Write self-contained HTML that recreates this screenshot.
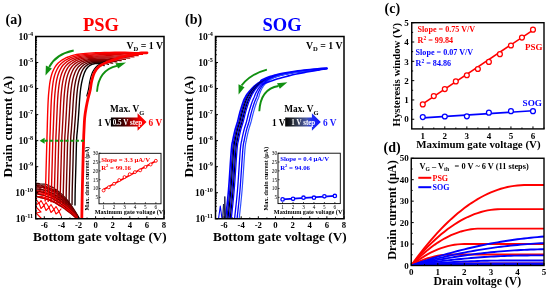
<!DOCTYPE html>
<html><head><meta charset="utf-8"><style>html,body{margin:0;padding:0;background:#fff;overflow:hidden}svg{display:block;filter:blur(0.35px)}</style></head>
<body>
<svg width="550" height="289" viewBox="0 0 550 289" font-family="'Liberation Serif', serif" font-weight="bold">
<rect width="550" height="289" fill="#fff"/>
<defs><linearGradient id="ga" x1="0" x2="1" y1="0" y2="0"><stop offset="0" stop-color="#000"/><stop offset="0.35" stop-color="#400000"/><stop offset="0.72" stop-color="#d00000"/><stop offset="0.8" stop-color="#ff0000"/><stop offset="1" stop-color="#ff0000"/></linearGradient><linearGradient id="gb" x1="0" x2="1" y1="0" y2="0"><stop offset="0" stop-color="#000"/><stop offset="0.3" stop-color="#303848"/><stop offset="0.6" stop-color="#4858a8"/><stop offset="0.75" stop-color="#2030f0"/><stop offset="1" stop-color="#1010ff"/></linearGradient></defs>
<text x="5.5" y="24.3" font-size="14" fill="#000" text-anchor="start" >(a)</text>
<text x="185" y="24.3" font-size="14" fill="#000" text-anchor="start" >(b)</text>
<text x="384.5" y="12.5" font-size="14" fill="#000" text-anchor="start" >(c)</text>
<text x="383.5" y="152" font-size="14" fill="#000" text-anchor="start" >(d)</text>
<text x="101" y="31" font-size="18.5" fill="#ff0000" text-anchor="middle" >PSG</text>
<text x="282" y="31" font-size="18.5" fill="#0000ff" text-anchor="middle" >SOG</text>
<defs><clipPath id="ca"><rect x="35.75" y="36.5" width="128.25" height="182.25"/></clipPath><clipPath id="cb"><rect x="215.5" y="36.5" width="128.5" height="182.25"/></clipPath></defs>
<g clip-path="url(#ca)" fill="none" stroke-linejoin="round" stroke-linecap="round">
<polyline points="35.7,183.53 37.89,183.4 40.08,183.76 42.27,184.04 44.46,184.01 46.65,184.58 48.84,185.94 51.03,186.49 53.22,187.62 55.41,189.39 57.6,190.64 59.79,192.57 61.98,194.38 64.17,196.65 66.36,198.93 68.55,201.74 70.74,204.7 72.93,207.79 75.12,211.22 77.31,214.88 79.5,218.8" stroke="#3c0000" stroke-width="1.2"/>
<polyline points="35.7,185.1 37.88,184.86 40.06,184.77 42.25,185.78 44.43,185.88 46.61,186.65 48.79,187.5 50.97,188.3 53.15,189.52 55.34,190.51 57.52,192.21 59.7,193.73 61.88,195.84 64.06,197.91 66.24,199.98 68.42,202.56 70.61,205.36 72.79,208.48 74.97,211.63 77.15,215.11 79.33,218.8" stroke="#690000" stroke-width="1.2"/>
<polyline points="35.7,185.49 37.87,185.51 40.05,185.89 42.22,186.17 44.39,186.86 46.57,187.27 48.74,188.2 50.91,189.07 53.09,190.24 55.26,191.34 57.43,192.56 59.61,194.57 61.78,196.47 63.95,198.51 66.13,200.67 68.3,203.19 70.47,205.78 72.65,208.8 74.82,211.88 76.99,215.22 79.17,218.8" stroke="#780000" stroke-width="1.2"/>
<polyline points="35.7,187.41 37.87,186.58 40.03,187.41 42.2,187.36 44.36,187.6 46.53,188.32 48.69,189.42 50.86,190.4 53.02,190.98 55.19,192.58 57.35,193.73 59.52,195.68 61.68,197.32 63.84,199.52 66.01,201.72 68.17,203.95 70.34,206.62 72.5,209.26 74.67,212.22 76.84,215.43 79,218.8" stroke="#500000" stroke-width="1.2"/>
<polyline points="35.7,186.94 37.86,187.19 40.01,186.96 42.17,187.2 44.33,188.35 46.48,188.53 48.64,189.77 50.8,190.65 52.95,191.43 55.11,192.77 57.27,194.25 59.42,195.94 61.58,197.72 63.74,199.69 65.89,201.88 68.05,204.31 70.21,206.74 72.36,209.46 74.52,212.41 76.68,215.48 78.83,218.8" stroke="#960000" stroke-width="1.2"/>
<polyline points="35.7,188.89 37.85,188.97 40,188.67 42.15,189.36 44.29,189.96 46.44,190.14 48.59,191.34 50.74,192.26 52.89,192.98 55.04,194.54 57.18,195.84 59.33,197.48 61.48,199.05 63.63,201.06 65.78,203.1 67.93,205.11 70.07,207.52 72.22,210.17 74.37,212.91 76.52,215.73 78.67,218.8" stroke="#a60000" stroke-width="1.2"/>
<polyline points="35.7,189.13 37.84,189.24 39.98,189.4 42.12,189.79 44.26,190.46 46.4,190.86 48.54,191.69 50.68,192.88 52.82,193.49 54.96,195.04 57.1,196.5 59.24,197.83 61.38,199.5 63.52,201.56 65.66,203.38 67.8,205.54 69.94,207.92 72.08,210.44 74.22,213.01 76.36,215.83 78.5,218.8" stroke="#640000" stroke-width="1.2"/>
<polyline points="35.7,190.44 37.83,190.9 39.96,190.47 42.09,190.97 44.23,191.72 46.36,192.51 48.49,192.95 50.62,193.72 52.75,194.72 54.89,196.16 57.02,197.32 59.15,199.1 61.28,200.72 63.41,202.24 65.54,204.2 67.67,206.4 69.81,208.56 71.94,210.93 74.07,213.36 76.2,216 78.33,218.8" stroke="#c40000" stroke-width="1.2"/>
<polyline points="35.7,191.12 37.82,191.28 39.95,191.57 42.07,191.93 44.19,192.41 46.32,193.43 48.44,193.64 50.56,194.46 52.69,196.09 54.81,197.21 56.93,198.55 59.06,199.73 61.18,201.52 63.3,203.2 65.43,204.81 67.55,206.94 69.67,209.06 71.8,211.27 73.92,213.63 76.04,216.14 78.17,218.8" stroke="#d40000" stroke-width="1.2"/>
<polyline points="35.7,191.14 37.82,191.74 39.93,191.69 42.05,192.52 44.16,192.41 46.28,193.72 48.39,194.34 50.51,195.4 52.62,196.41 54.73,197.58 56.85,198.71 58.97,199.89 61.08,201.78 63.2,203.26 65.31,205.14 67.42,207.2 69.54,209.24 71.66,211.42 73.77,213.81 75.88,216.23 78,218.8" stroke="#780000" stroke-width="1.2"/>
<polyline points="35.7,192.86 37.81,192.57 39.91,193.09 42.02,193.09 44.13,193.5 46.23,194.42 48.34,195.39 50.45,195.87 52.55,197.29 54.66,198.5 56.77,199.7 58.87,201.09 60.98,202.27 63.09,204.15 65.19,205.97 67.3,207.61 69.41,209.67 71.51,211.78 73.62,214.03 75.73,216.35 77.83,218.8" stroke="#f20000" stroke-width="1.2"/>
<polyline points="35.7,193.53 37.8,193.7 39.9,194.04 42,194.44 44.09,194.93 46.19,196.27 48.29,196.92 50.39,197.28 52.49,198.54 54.59,199.54 56.68,200.76 58.78,202.11 60.88,203.67 62.98,205.18 65.08,206.75 67.18,208.46 69.27,210.35 71.37,212.28 73.47,214.4 75.57,216.56 77.67,218.8" stroke="#ff0000" stroke-width="1.2"/>
<polyline points="35.7,193.77 37.79,194.08 39.88,194.56 41.97,195.12 44.06,195.32 46.15,196.3 48.24,196.94 50.33,197.71 52.42,198.68 54.51,199.87 56.6,201.19 58.69,202.38 60.78,203.92 62.87,205.36 64.96,206.93 67.05,208.74 69.14,210.59 71.23,212.41 73.32,214.48 75.41,216.59 77.5,218.8" stroke="#8c0000" stroke-width="1.2"/>
<polyline points="35.7,195.9 37.78,196.51 39.86,196.66 41.95,196.6 44.03,197.29 46.11,197.67 48.19,198.91 50.27,199.64 52.35,200.71 54.44,201.68 56.52,202.74 58.6,203.99 60.68,205.22 62.76,206.46 64.84,208.12 66.92,209.55 69.01,211.26 71.09,213.12 73.17,214.86 75.25,216.79 77.33,218.8" stroke="#ff0000" stroke-width="1.2"/>
<polyline points="35.7,196.54 37.77,196.52 39.85,197.56 41.92,197.34 43.99,198.47 46.07,198.95 48.14,199.79 50.21,200.68 52.29,201.36 54.36,202.49 56.43,203.19 58.51,204.73 60.58,205.88 62.65,207.3 64.73,208.54 66.8,210.22 68.87,211.83 70.95,213.33 73.02,215.11 75.09,216.93 77.17,218.8" stroke="#ff0000" stroke-width="1.2"/>
<polyline points="35.7,196.67 37.77,196.89 39.83,197.53 41.9,198.07 43.96,198.32 46.03,198.96 48.09,199.73 50.16,200.55 52.22,201.54 54.29,202.37 56.35,203.7 58.42,205.1 60.48,206.11 62.55,207.56 64.61,208.78 66.67,210.41 68.74,211.97 70.81,213.56 72.87,215.23 74.94,216.98 77,218.8" stroke="#a00000" stroke-width="1.2"/>
<polyline points="36,199 39,203.5 41,200.5 44,205.5 46,202.5 49,207.5 51,204.5 54,209.5 56,206.5 59,211.5 61,209" stroke="#ff0000" stroke-width="1.1"/>
<polyline points="36,205 39,203 41,208.5 44,205.5 46,210.5 49,207.5 51,212.5 54,209.5 56,214 59,211.5 61,215.5" stroke="#ff0000" stroke-width="1.1"/>
<polyline points="36,207 41,212 36,213 41,218" stroke="#ff0000" stroke-width="1.1"/>
<polyline points="104.1,65.6 103.83,65.43 103.45,65.19 103.01,64.91 102.51,64.63 102,64.4 101.47,64.2 100.91,64.01 100.32,63.84 99.68,63.7 99,63.6 98.26,63.53 97.47,63.48 96.65,63.48 95.82,63.51 95,63.6 94.18,63.75 93.35,63.95 92.53,64.19 91.74,64.48 91,64.8 90.33,65.16 89.7,65.55 89.12,65.98 88.55,66.46 88,67 87.46,67.59 86.94,68.23 86.44,68.93 85.96,69.68 85.5,70.5 85.06,71.38 84.65,72.32 84.25,73.32 83.87,74.38 83.5,75.5 83.13,76.68 82.78,77.92 82.44,79.22 82.11,80.58 81.8,82 81.51,83.47 81.23,85 80.97,86.58 80.73,88.25 80.5,90 80.3,91.79 80.12,93.62 79.95,95.54 79.78,97.65 79.6,100 79.41,102.68 79.22,105.64 79.02,108.76 78.81,111.92 78.6,115 78.37,118.08 78.12,121.24 77.86,124.36 77.62,127.32 77.4,130 77.21,132.08 77.05,133.64 76.89,135.16 76.75,137.12 76.6,140 76.45,144.04 76.31,148.92 76.18,154.28 76.04,159.76 75.9,165 75.75,170.16 75.6,175.48 75.44,180.72 75.31,185.64 75.2,190 75.12,193.88 75.07,197.44 75.04,200.56 75.02,203.12 75,205" stroke="#000000" stroke-width="1.4"/>
<polyline points="108.36,64.35 107.83,64.18 107.08,63.95 106.2,63.68 105.25,63.41 104.3,63.19 103.33,63.01 102.31,62.84 101.24,62.7 100.16,62.58 99.1,62.5 98.04,62.45 96.96,62.43 95.89,62.44 94.84,62.49 93.82,62.6 92.84,62.76 91.87,62.97 90.93,63.22 90.04,63.52 89.19,63.86 88.4,64.23 87.66,64.65 86.95,65.1 86.28,65.61 85.62,66.18 84.98,66.8 84.36,67.48 83.77,68.21 83.21,69 82.68,69.85 82.18,70.77 81.72,71.75 81.28,72.79 80.86,73.89 80.45,75.05 80.06,76.27 79.68,77.55 79.32,78.89 78.98,80.3 78.66,81.76 78.36,83.28 78.08,84.86 77.82,86.5 77.58,88.21 77.35,90 77.15,91.81 76.97,93.63 76.8,95.56 76.64,97.65 76.46,100 76.28,102.68 76.09,105.64 75.9,108.76 75.7,111.92 75.5,115 75.28,118.08 75.05,121.24 74.81,124.36 74.58,127.32 74.38,130 74.21,132.08 74.05,133.64 73.91,135.16 73.77,137.12 73.63,140 73.49,144.04 73.35,148.92 73.21,154.28 73.07,159.76 72.93,165 72.78,170.17 72.63,175.5 72.47,180.75 72.34,185.67 72.23,190 72.15,193.82 72.1,197.29 72.07,200.31 72.04,202.78 72.02,204.6" stroke="#390000" stroke-width="1.4"/>
<polyline points="112.62,63.1 111.82,62.94 110.71,62.71 109.4,62.44 107.99,62.19 106.6,61.98 105.19,61.82 103.7,61.67 102.17,61.55 100.65,61.46 99.2,61.4 97.81,61.37 96.45,61.37 95.13,61.4 93.86,61.48 92.64,61.6 91.49,61.77 90.39,61.99 89.34,62.26 88.34,62.57 87.38,62.92 86.47,63.31 85.61,63.75 84.79,64.23 84,64.76 83.24,65.36 82.5,66.01 81.79,66.72 81.11,67.48 80.46,68.31 79.86,69.2 79.3,70.16 78.78,71.17 78.3,72.26 77.84,73.4 77.4,74.6 76.98,75.86 76.58,77.18 76.2,78.57 75.85,80.01 75.52,81.52 75.21,83.09 74.93,84.73 74.67,86.42 74.43,88.18 74.2,90 74,91.82 73.82,93.65 73.65,95.57 73.49,97.66 73.32,100 73.14,102.68 72.96,105.64 72.78,108.76 72.59,111.92 72.4,115 72.19,118.08 71.98,121.24 71.76,124.36 71.55,127.32 71.36,130 71.2,132.08 71.06,133.64 70.92,135.16 70.79,137.12 70.66,140 70.52,144.04 70.38,148.92 70.24,154.28 70.1,159.76 69.96,165 69.81,170.17 69.66,175.52 69.51,180.78 69.37,185.69 69.26,190 69.18,193.76 69.13,197.14 69.09,200.06 69.06,202.44 69.04,204.2" stroke="#5a0000" stroke-width="1.4"/>
<polyline points="116.88,61.85 115.82,61.69 114.34,61.47 112.59,61.21 110.73,60.96 108.9,60.77 107.06,60.62 105.09,60.5 103.09,60.4 101.13,60.33 99.3,60.3 97.59,60.29 95.94,60.31 94.37,60.37 92.88,60.46 91.46,60.6 90.14,60.79 88.91,61.02 87.75,61.29 86.64,61.61 85.57,61.98 84.54,62.39 83.56,62.85 82.62,63.35 81.73,63.92 80.86,64.54 80.02,65.22 79.21,65.96 78.44,66.76 77.72,67.62 77.04,68.55 76.42,69.54 75.85,70.6 75.32,71.72 74.82,72.91 74.35,74.15 73.9,75.45 73.48,76.82 73.09,78.24 72.72,79.73 72.38,81.28 72.07,82.9 71.78,84.59 71.52,86.34 71.28,88.15 71.05,90 70.85,91.84 70.67,93.67 70.51,95.58 70.35,97.66 70.18,100 70.01,102.68 69.83,105.64 69.66,108.76 69.48,111.92 69.3,115 69.11,118.08 68.91,121.24 68.71,124.36 68.51,127.32 68.34,130 68.19,132.08 68.06,133.64 67.94,135.16 67.82,137.12 67.69,140 67.55,144.04 67.41,148.92 67.27,154.28 67.13,159.76 66.99,165 66.84,170.18 66.69,175.54 66.54,180.81 66.4,185.72 66.29,190 66.21,193.7 66.15,196.99 66.11,199.81 66.08,202.1 66.06,203.8" stroke="#750000" stroke-width="1.4"/>
<polyline points="121.14,60.6 119.82,60.45 117.97,60.23 115.79,59.98 113.47,59.74 111.2,59.56 108.92,59.43 106.49,59.33 104.02,59.26 101.62,59.21 99.4,59.2 97.36,59.21 95.43,59.26 93.61,59.33 91.89,59.44 90.28,59.6 88.79,59.8 87.43,60.04 86.15,60.32 84.94,60.66 83.76,61.04 82.61,61.47 81.51,61.95 80.46,62.48 79.45,63.07 78.48,63.72 77.54,64.43 76.64,65.21 75.78,66.04 74.97,66.94 74.22,67.9 73.54,68.93 72.91,70.03 72.34,71.19 71.81,72.42 71.3,73.7 70.82,75.04 70.38,76.45 69.97,77.91 69.59,79.44 69.24,81.04 68.92,82.71 68.63,84.46 68.37,86.26 68.13,88.12 67.9,90 67.7,91.85 67.52,93.69 67.36,95.59 67.2,97.66 67.04,100 66.87,102.68 66.7,105.64 66.54,108.76 66.37,111.92 66.2,115 66.02,118.08 65.84,121.24 65.65,124.36 65.48,127.32 65.32,130 65.18,132.08 65.06,133.64 64.95,135.16 64.84,137.12 64.72,140 64.59,144.04 64.45,148.92 64.3,154.28 64.16,159.76 64.02,165 63.87,170.19 63.72,175.56 63.57,180.84 63.43,185.74 63.32,190 63.24,193.64 63.18,196.84 63.14,199.56 63.11,201.76 63.08,203.4" stroke="#8d0000" stroke-width="1.4"/>
<polyline points="125.4,59.35 123.82,59.2 121.6,58.99 118.98,58.74 116.2,58.52 113.5,58.35 110.78,58.24 107.88,58.16 104.94,58.11 102.1,58.09 99.5,58.1 97.14,58.14 94.92,58.2 92.85,58.29 90.91,58.42 89.1,58.6 87.44,58.82 85.94,59.07 84.56,59.36 83.24,59.7 81.95,60.1 80.68,60.55 79.46,61.05 78.29,61.61 77.18,62.22 76.1,62.9 75.06,63.64 74.06,64.45 73.11,65.32 72.22,66.25 71.4,67.25 70.65,68.32 69.98,69.46 69.36,70.66 68.79,71.92 68.25,73.25 67.74,74.63 67.28,76.08 66.85,77.59 66.46,79.16 66.1,80.8 65.77,82.52 65.48,84.32 65.22,86.18 64.98,88.08 64.75,90 64.55,91.87 64.37,93.7 64.21,95.6 64.06,97.67 63.9,100 63.74,102.68 63.58,105.64 63.42,108.76 63.26,111.92 63.1,115 62.94,118.08 62.77,121.24 62.6,124.36 62.44,127.32 62.3,130 62.18,132.08 62.07,133.64 61.97,135.16 61.87,137.12 61.75,140 61.62,144.04 61.48,148.92 61.34,154.28 61.19,159.76 61.05,165 60.9,170.19 60.75,175.58 60.6,180.86 60.46,185.77 60.35,190 60.27,193.58 60.21,196.69 60.16,199.31 60.13,201.42 60.1,203" stroke="#a30000" stroke-width="1.4"/>
<polyline points="129.66,58.1 127.81,57.96 125.23,57.75 122.18,57.51 118.94,57.29 115.8,57.14 112.64,57.05 109.27,56.99 105.87,56.96 102.59,56.97 99.6,57 96.91,57.06 94.42,57.14 92.09,57.26 89.93,57.41 87.92,57.6 86.09,57.83 84.46,58.09 82.97,58.39 81.55,58.75 80.14,59.16 78.75,59.63 77.41,60.15 76.13,60.73 74.9,61.37 73.72,62.08 72.58,62.85 71.49,63.69 70.45,64.59 69.47,65.56 68.58,66.6 67.77,67.71 67.05,68.88 66.39,70.13 65.77,71.43 65.2,72.8 64.66,74.23 64.18,75.71 63.74,77.26 63.33,78.88 62.96,80.56 62.62,82.33 62.33,84.19 62.06,86.1 61.82,88.05 61.6,90 61.4,91.88 61.22,93.72 61.07,95.61 60.91,97.67 60.76,100 60.6,102.68 60.45,105.64 60.3,108.76 60.15,111.92 60,115 59.85,118.08 59.7,121.24 59.55,124.36 59.41,127.32 59.28,130 59.17,132.08 59.07,133.64 58.98,135.16 58.89,137.12 58.78,140 58.65,144.04 58.51,148.92 58.37,154.28 58.22,159.76 58.08,165 57.93,170.2 57.78,175.6 57.63,180.89 57.49,185.79 57.38,190 57.3,193.52 57.23,196.54 57.18,199.06 57.15,201.08 57.12,202.6" stroke="#b70000" stroke-width="1.4"/>
<polyline points="133.92,56.85 131.81,56.71 128.85,56.51 125.37,56.28 121.68,56.07 118.1,55.93 114.5,55.86 110.66,55.82 106.79,55.82 103.07,55.85 99.7,55.9 96.69,55.98 93.91,56.08 91.34,56.22 88.95,56.39 86.74,56.6 84.74,56.84 82.98,57.11 81.37,57.43 79.85,57.79 78.33,58.22 76.82,58.71 75.36,59.25 73.97,59.86 72.63,60.52 71.34,61.26 70.1,62.07 68.91,62.94 67.78,63.87 66.73,64.88 65.76,65.95 64.89,67.1 64.11,68.31 63.41,69.59 62.76,70.94 62.15,72.35 61.59,73.82 61.08,75.34 60.62,76.93 60.2,78.59 59.82,80.32 59.48,82.14 59.18,84.05 58.91,86.02 58.67,88.02 58.45,90 58.25,91.9 58.07,93.74 57.92,95.62 57.77,97.67 57.62,100 57.47,102.68 57.32,105.64 57.18,108.76 57.04,111.92 56.9,115 56.76,118.08 56.63,121.24 56.5,124.36 56.37,127.32 56.26,130 56.16,132.08 56.08,133.64 56,135.16 55.91,137.12 55.81,140 55.69,144.04 55.55,148.92 55.4,154.28 55.25,159.76 55.11,165 54.96,170.2 54.81,175.61 54.66,180.92 54.52,185.82 54.41,190 54.32,193.45 54.26,196.39 54.21,198.81 54.17,200.75 54.14,202.2" stroke="#ca0000" stroke-width="1.4"/>
<polyline points="138.18,55.6 135.81,55.46 132.48,55.27 128.57,55.05 124.42,54.85 120.4,54.72 116.36,54.66 112.06,54.65 107.72,54.67 103.56,54.72 99.8,54.8 96.46,54.9 93.4,55.03 90.58,55.18 87.97,55.37 85.56,55.6 83.4,55.86 81.5,56.14 79.78,56.46 78.15,56.84 76.52,57.28 74.89,57.79 73.32,58.36 71.8,58.98 70.35,59.68 68.96,60.44 67.62,61.28 66.34,62.18 65.12,63.15 63.98,64.19 62.94,65.3 62.01,66.48 61.18,67.74 60.43,69.06 59.74,70.45 59.1,71.9 58.51,73.41 57.98,74.97 57.5,76.61 57.07,78.31 56.68,80.08 56.33,81.95 56.03,83.92 55.76,85.94 55.52,87.98 55.3,90 55.1,91.91 54.92,93.75 54.77,95.64 54.63,97.68 54.48,100 54.33,102.68 54.19,105.64 54.06,108.76 53.93,111.92 53.8,115 53.68,118.08 53.56,121.24 53.45,124.36 53.34,127.32 53.24,130 53.15,132.08 53.08,133.64 53.01,135.16 52.94,137.12 52.84,140 52.72,144.04 52.58,148.92 52.43,154.28 52.28,159.76 52.14,165 51.99,170.21 51.84,175.63 51.69,180.95 51.55,185.84 51.44,190 51.35,193.39 51.28,196.24 51.23,198.56 51.19,200.41 51.16,201.8" stroke="#dd0000" stroke-width="1.4"/>
<polyline points="142.44,54.35 139.8,54.22 136.11,54.03 131.76,53.81 127.16,53.63 122.7,53.51 118.22,53.47 113.45,53.48 108.64,53.52 104.04,53.6 99.9,53.7 96.24,53.82 92.89,53.97 89.82,54.15 86.99,54.35 84.38,54.6 82.05,54.87 80.02,55.16 78.19,55.49 76.45,55.88 74.71,56.34 72.96,56.87 71.27,57.46 69.64,58.11 68.07,58.83 66.58,59.62 65.14,60.49 63.76,61.42 62.45,62.43 61.23,63.5 60.12,64.65 59.13,65.87 58.25,67.17 57.45,68.53 56.73,69.96 56.05,71.45 55.43,73 54.88,74.61 54.39,76.28 53.95,78.02 53.54,79.84 53.18,81.76 52.88,83.78 52.61,85.86 52.37,87.95 52.15,90 51.95,91.93 51.78,93.77 51.62,95.65 51.48,97.68 51.34,100 51.2,102.68 51.06,105.64 50.94,108.76 50.82,111.92 50.7,115 50.59,118.08 50.49,121.24 50.39,124.36 50.31,127.32 50.22,130 50.15,132.08 50.09,133.64 50.03,135.16 49.96,137.12 49.87,140 49.75,144.04 49.62,148.92 49.47,154.28 49.32,159.76 49.17,165 49.02,170.22 48.87,175.65 48.72,180.98 48.58,185.87 48.47,190 48.38,193.33 48.31,196.09 48.26,198.31 48.21,200.07 48.18,201.4" stroke="#ee0000" stroke-width="1.4"/>
<polyline points="146.7,53.1 143.8,52.97 139.74,52.78 134.96,52.58 129.9,52.4 125,52.3 120.08,52.28 114.84,52.31 109.57,52.38 104.53,52.48 100,52.6 96.01,52.74 92.38,52.91 89.06,53.11 86.01,53.34 83.2,53.6 80.7,53.88 78.54,54.19 76.59,54.53 74.75,54.92 72.9,55.4 71.03,55.95 69.22,56.56 67.47,57.23 65.8,57.98 64.2,58.8 62.66,59.7 61.19,60.66 59.79,61.7 58.48,62.82 57.3,64 56.25,65.26 55.31,66.59 54.47,68 53.71,69.47 53,71 52.35,72.59 51.78,74.24 51.27,75.95 50.82,77.74 50.4,79.6 50.03,81.57 49.72,83.65 49.46,85.78 49.22,87.92 49,90 48.8,91.95 48.63,93.79 48.48,95.66 48.34,97.69 48.2,100 48.06,102.68 47.94,105.64 47.82,108.76 47.7,111.92 47.6,115 47.51,118.08 47.42,121.24 47.34,124.36 47.27,127.32 47.2,130 47.14,132.08 47.09,133.64 47.04,135.16 46.98,137.12 46.9,140 46.79,144.04 46.65,148.92 46.5,154.28 46.35,159.76 46.2,165 46.05,170.22 45.9,175.67 45.75,181.01 45.61,185.9 45.5,190 45.41,193.27 45.34,195.94 45.28,198.06 45.23,199.73 45.2,201" stroke="#ff0000" stroke-width="1.4"/>
<polyline points="86.82,95.85 87.27,94.19 87.71,92.57 88.12,90.95 88.5,89.3 88.8,87.62 89.05,85.92 89.28,84.22 89.55,82.52 89.9,80.8 90.33,79.03 90.81,77.2 91.35,75.38 91.94,73.66 92.6,72.1 93.32,70.72 94.11,69.46 94.95,68.31 95.85,67.26 96.8,66.3 97.8,65.45 98.86,64.73 99.97,64.09 101.12,63.49 102.3,62.9 103.46,62.34 104.61,61.85 105.82,61.37" stroke="#000" stroke-width="1.2"/>
<polyline points="81.8,219 81.85,215.75 81.92,211.18 82.01,205.82 82.1,200.25 82.2,195 82.3,190.14 82.42,185.31 82.54,180.41 82.66,175.34 82.8,170 82.95,164 83.12,157.4 83.3,150.8 83.46,144.8 83.6,140 83.7,136.76 83.77,134.67 83.84,133.21 83.91,131.83 84,130 84.11,127.65 84.22,125.12 84.36,122.54 84.51,120.03 84.7,117.7 84.93,115.59 85.18,113.63 85.46,111.76 85.77,109.9 86.1,108 86.46,106.04 86.85,104.05 87.26,102.08 87.68,100.15 88.1,98.3 88.52,96.55 88.97,94.89 89.41,93.27 89.82,91.65 90.2,90 90.5,88.32 90.75,86.62 90.98,84.92 91.25,83.22 91.6,81.5 92.03,79.73 92.51,77.9 93.05,76.08 93.64,74.36 94.3,72.8 95.02,71.42 95.81,70.16 96.65,69.01 97.55,67.96 98.5,67 99.5,66.15 100.56,65.43 101.67,64.79 102.82,64.19 104,63.6 105.16,63.04 106.31,62.55 107.52,62.07 108.86,61.57 110.4,61 112.21,60.33 114.24,59.58 116.39,58.82 118.58,58.07 120.7,57.4 122.76,56.8 124.81,56.25 126.87,55.73 128.93,55.25 131,54.8 133.17,54.36 135.43,53.95 137.65,53.57 139.72,53.24 141.5,53 143.01,52.85 144.32,52.8 145.44,52.79 146.33,52.8 147,52.8" stroke="#ff0000" stroke-width="2.8"/>
</g>
<g clip-path="url(#cb)" fill="none" stroke-linejoin="round" stroke-linecap="round">
<polyline points="225.5,219.5 225.91,215.66 226.49,210.33 227.17,203.97 227.86,197.04 228.5,190 229.09,182.19 229.7,173.32 230.28,164.34 230.83,156.25 231.3,150 231.67,146.08 231.96,143.84 232.21,142.56 232.48,141.52 232.8,140 233.19,137.97 233.62,135.9 234.07,133.86 234.54,131.87 235,130 235.46,128.31 235.94,126.76 236.42,125.26 236.9,123.71 237.4,122 237.9,120.1 238.39,118.09 238.9,116 239.43,113.89 240,111.8 240.62,109.66 241.29,107.44 241.98,105.25 242.65,103.2 243.3,101.4 243.9,99.91 244.46,98.65 245.02,97.54 245.59,96.52 246.2,95.5 246.85,94.5 247.52,93.56 248.22,92.68 248.91,91.83 249.6,91 250.27,90.2 250.94,89.44 251.61,88.71 252.29,88 253,87.3 253.73,86.62 254.47,85.97 255.23,85.33 256.01,84.71 256.8,84.1 257.61,83.49 258.44,82.89 259.29,82.3 260.14,81.74 261,81.2 261.83,80.7 262.64,80.24 263.47,79.79 264.38,79.35 265.4,78.9 266.56,78.44 267.81,77.97 269.15,77.5 270.56,77.04 272,76.6 273.4,76.19 274.76,75.81 276.23,75.44 277.93,75.04 280,74.6 282.55,74.09 285.5,73.52 288.66,72.94 291.89,72.39 295,71.9 297.96,71.49 300.89,71.14 303.84,70.82 306.86,70.52 310,70.2 313.57,69.85 317.55,69.48 321.45,69.12 324.83,68.82 326.87,68.63" stroke="#0000ff" stroke-width="1.6"/>
<polyline points="226.8,219.5 227.21,215.66 227.79,210.33 228.47,203.97 229.16,197.04 229.8,190 230.39,182.19 231,173.32 231.58,164.34 232.13,156.25 232.6,150 232.97,146.08 233.26,143.84 233.51,142.56 233.78,141.52 234.1,140 234.49,137.97 234.92,135.9 235.37,133.86 235.84,131.87 236.3,130 236.76,128.31 237.24,126.76 237.72,125.26 238.2,123.71 238.7,122 239.2,120.1 239.69,118.09 240.2,116 240.73,113.89 241.3,111.8 241.92,109.66 242.59,107.44 243.28,105.25 243.95,103.2 244.6,101.4 245.2,99.91 245.76,98.65 246.32,97.54 246.88,96.52 247.44,95.5 248.05,94.5 248.69,93.56 249.34,92.68 250.01,91.83 250.66,91 251.3,90.2 251.94,89.44 252.58,88.71 253.24,88 253.92,87.3 254.62,86.62 255.34,85.97 256.07,85.33 256.82,84.71 257.59,84.1 258.38,83.49 259.18,82.89 260,82.3 260.84,81.74 261.67,81.2 262.49,80.7 263.28,80.24 264.09,79.79 264.98,79.35 265.98,78.9 267.12,78.44 268.36,77.97 269.68,77.5 271.07,77.04 272.49,76.6 273.88,76.19 275.22,75.81 276.68,75.44 278.36,75.04 280.41,74.6 282.95,74.09 285.89,73.52 289.05,72.94 292.28,72.39 295.39,71.9 298.35,71.49 301.28,71.14 304.23,70.82 307.25,70.52 310.39,70.2 313.96,69.85 317.94,69.48 321.84,69.12 325.22,68.82 325.37,68.8" stroke="#0000d0" stroke-width="1.3"/>
<polyline points="227.9,219.5 228.31,215.66 228.89,210.33 229.57,203.97 230.26,197.04 230.9,190 231.49,182.19 232.1,173.32 232.68,164.34 233.23,156.25 233.7,150 234.07,146.08 234.36,143.84 234.61,142.56 234.88,141.52 235.2,140 235.59,137.97 236.02,135.9 236.47,133.86 236.94,131.87 237.4,130 237.86,128.31 238.34,126.76 238.82,125.26 239.3,123.71 239.8,122 240.3,120.1 240.79,118.09 241.3,116 241.83,113.89 242.4,111.8 243.02,109.66 243.69,107.44 244.38,105.25 245.05,103.2 245.7,101.4 246.3,99.91 246.86,98.65 247.42,97.54 247.96,96.52 248.49,95.5 249.07,94.5 249.67,93.56 250.3,92.68 250.93,91.83 251.56,91 252.18,90.2 252.79,89.44 253.41,88.71 254.04,88 254.69,87.3 255.37,86.62 256.07,85.97 256.78,85.33 257.51,84.71 258.26,84.1 259.02,83.49 259.81,82.89 260.61,82.3 261.43,81.74 262.25,81.2 263.04,80.7 263.82,80.24 264.62,79.79 265.49,79.35 266.48,78.9 267.6,78.44 268.82,77.97 270.13,77.5 271.5,77.04 272.91,76.6 274.28,76.19 275.62,75.81 277.05,75.44 278.73,75.04 280.76,74.6 283.28,74.09 286.22,73.52 289.38,72.94 292.61,72.39 295.72,71.9 298.68,71.49 301.61,71.14 304.56,70.82 307.58,70.52 310.72,70.2 314.29,69.85 318.27,69.48 322.17,69.12 323.87,68.97" stroke="#000000" stroke-width="1.3"/>
<polyline points="229,219.5 229.41,215.66 229.99,210.33 230.67,203.97 231.36,197.04 232,190 232.59,182.19 233.2,173.32 233.78,164.34 234.33,156.25 234.8,150 235.17,146.08 235.46,143.84 235.71,142.56 235.98,141.52 236.3,140 236.69,137.97 237.12,135.9 237.57,133.86 238.04,131.87 238.5,130 238.96,128.31 239.44,126.76 239.92,125.26 240.4,123.71 240.9,122 241.4,120.1 241.89,118.09 242.4,116 242.93,113.89 243.5,111.8 244.12,109.66 244.79,107.44 245.48,105.25 246.15,103.2 246.8,101.4 247.4,99.91 247.96,98.65 248.52,97.54 249.04,96.52 249.54,95.5 250.08,94.5 250.66,93.56 251.26,92.68 251.86,91.83 252.46,91 253.05,90.2 253.64,89.44 254.23,88.71 254.84,88 255.47,87.3 256.12,86.62 256.8,85.97 257.49,85.33 258.2,84.71 258.93,84.1 259.67,83.49 260.44,82.89 261.22,82.3 262.01,81.74 262.82,81.2 263.6,80.7 264.35,80.24 265.14,79.79 266,79.35 266.97,78.9 268.08,78.44 269.29,77.97 270.58,77.5 271.93,77.04 273.33,76.6 274.68,76.19 276.01,75.81 277.43,75.44 279.09,75.04 281.11,74.6 283.61,74.09 286.55,73.52 289.71,72.94 292.94,72.39 296.05,71.9 299.01,71.49 301.94,71.14 304.89,70.82 307.91,70.52 311.05,70.2 314.62,69.85 318.6,69.48 322.37,69.13" stroke="#0000ff" stroke-width="1.3"/>
<polyline points="230.1,219.5 230.51,215.66 231.09,210.33 231.77,203.97 232.46,197.04 233.1,190 233.69,182.19 234.3,173.32 234.88,164.34 235.43,156.25 235.9,150 236.27,146.08 236.56,143.84 236.81,142.56 237.08,141.52 237.4,140 237.79,137.97 238.22,135.9 238.67,133.86 239.14,131.87 239.6,130 240.06,128.31 240.54,126.76 241.02,125.26 241.5,123.71 242,122 242.5,120.1 242.99,118.09 243.5,116 244.03,113.89 244.6,111.8 245.22,109.66 245.89,107.44 246.58,105.25 247.25,103.2 247.9,101.4 248.5,99.91 249.06,98.65 249.62,97.54 250.13,96.52 250.59,95.5 251.1,94.5 251.64,93.56 252.21,92.68 252.79,91.83 253.36,91 253.92,90.2 254.48,89.44 255.05,88.71 255.63,88 256.24,87.3 256.88,86.62 257.53,85.97 258.2,85.33 258.89,84.71 259.59,84.1 260.32,83.49 261.07,82.89 261.83,82.3 262.6,81.74 263.39,81.2 264.15,80.7 264.89,80.24 265.66,79.79 266.51,79.35 267.47,78.9 268.56,78.44 269.75,77.97 271.02,77.5 272.36,77.04 273.74,76.6 275.09,76.19 276.4,75.81 277.81,75.44 279.46,75.04 281.46,74.6 283.94,74.09 286.88,73.52 290.04,72.94 293.27,72.39 296.38,71.9 299.34,71.49 302.27,71.14 305.22,70.82 308.24,70.52 311.38,70.2 314.95,69.85 318.93,69.48 320.87,69.3" stroke="#000010" stroke-width="1.2"/>
<polyline points="231.2,219.5 231.61,215.66 232.19,210.33 232.87,203.97 233.56,197.04 234.2,190 234.79,182.19 235.4,173.32 235.98,164.34 236.53,156.25 237,150 237.37,146.08 237.66,143.84 237.91,142.56 238.18,141.52 238.5,140 238.89,137.97 239.32,135.9 239.77,133.86 240.24,131.87 240.7,130 241.16,128.31 241.64,126.76 242.12,125.26 242.6,123.71 243.1,122 243.6,120.1 244.09,118.09 244.6,116 245.13,113.89 245.7,111.8 246.32,109.66 246.99,107.44 247.68,105.25 248.35,103.2 249,101.4 249.6,99.91 250.16,98.65 250.72,97.54 251.21,96.52 251.64,95.5 252.11,94.5 252.63,93.56 253.17,92.68 253.71,91.83 254.26,91 254.79,90.2 255.33,89.44 255.87,88.71 256.43,88 257.02,87.3 257.63,86.62 258.26,85.97 258.91,85.33 259.58,84.71 260.26,84.1 260.97,83.49 261.69,82.89 262.44,82.3 263.19,81.74 263.96,81.2 264.7,80.7 265.43,80.24 266.19,79.79 267.01,79.35 267.96,78.9 269.04,78.44 270.21,77.97 271.47,77.5 272.79,77.04 274.16,76.6 275.49,76.19 276.79,75.81 278.19,75.44 279.82,75.04 281.81,74.6 284.28,74.09 287.21,73.52 290.37,72.94 293.6,72.39 296.71,71.9 299.67,71.49 302.6,71.14 305.55,70.82 308.57,70.52 311.71,70.2 315.28,69.85 319.26,69.48 319.37,69.47" stroke="#0000ff" stroke-width="1.3"/>
<polyline points="234.5,219.5 234.91,215.66 235.49,210.33 236.17,203.97 236.86,197.04 237.5,190 238.09,182.19 238.7,173.32 239.28,164.34 239.83,156.25 240.3,150 240.67,146.08 240.96,143.84 241.21,142.56 241.48,141.52 241.8,140 242.19,137.97 242.62,135.9 243.07,133.86 243.54,131.87 244,130 244.46,128.31 244.94,126.76 245.42,125.26 245.9,123.71 246.4,122 246.9,120.1 247.39,118.09 247.9,116 248.43,113.89 249,111.8 249.62,109.66 250.29,107.44 250.98,105.25 251.65,103.2 252.3,101.4 252.9,99.91 253.46,98.65 254.02,97.54 254.46,96.52 254.79,95.5 255.16,94.5 255.58,93.56 256.03,92.68 256.49,91.83 256.96,91 257.41,90.2 257.87,89.44 258.34,88.71 258.83,88 259.34,87.3 259.89,86.62 260.45,85.97 261.04,85.33 261.64,84.71 262.27,84.1 262.91,83.49 263.58,82.89 264.26,82.3 264.96,81.74 265.67,81.2 266.37,80.7 267.05,80.24 267.76,79.79 268.54,79.35 269.44,78.9 270.47,78.44 271.6,77.97 272.81,77.5 274.09,77.04 275.41,76.6 276.7,76.19 277.96,75.81 279.32,75.44 280.91,75.04 282.86,74.6 285.28,74.09 288.2,73.52 291.36,72.94 294.59,72.39 297.7,71.9 300.66,71.49 303.59,71.14 306.54,70.82 309.56,70.52 312.7,70.2 316.27,69.85 317.87,69.7" stroke="#0000ff" stroke-width="1.3"/>
<polyline points="237,219.5 237.41,215.66 237.99,210.33 238.67,203.97 239.36,197.04 240,190 240.59,182.19 241.2,173.32 241.78,164.34 242.33,156.25 242.8,150 243.17,146.08 243.46,143.84 243.71,142.56 243.98,141.52 244.3,140 244.69,137.97 245.12,135.9 245.57,133.86 246.04,131.87 246.5,130 246.96,128.31 247.44,126.76 247.92,125.26 248.4,123.71 248.9,122 249.4,120.1 249.89,118.09 250.4,116 250.93,113.89 251.5,111.8 252.12,109.66 252.79,107.44 253.48,105.25 254.15,103.2 254.8,101.4 255.4,99.91 255.96,98.65 256.52,97.54 256.93,96.52 257.18,95.5 257.47,94.5 257.82,93.56 258.2,92.68 258.6,91.83 259,91 259.39,90.2 259.79,89.44 260.21,88.71 260.64,88 261.1,87.3 261.6,86.62 262.11,85.97 262.65,85.33 263.21,84.71 263.79,84.1 264.38,83.49 265,82.89 265.64,82.3 266.3,81.74 266.97,81.2 267.63,80.7 268.27,80.24 268.95,79.79 269.7,79.35 270.56,78.9 271.56,78.44 272.65,77.97 273.83,77.5 275.07,77.04 276.36,76.6 277.62,76.19 278.85,75.81 280.18,75.44 281.74,75.04 283.66,74.6 286.03,74.09 288.95,73.52 292.11,72.94 295.34,72.39 298.45,71.9 301.41,71.49 304.34,71.14 307.29,70.82 310.31,70.52 313.45,70.2 316.37,69.91" stroke="#0000ff" stroke-width="1.3"/>
<polyline points="239.1,219.5 239.51,215.66 240.09,210.33 240.77,203.97 241.46,197.04 242.1,190 242.69,182.19 243.3,173.32 243.88,164.34 244.43,156.25 244.9,150 245.27,146.08 245.56,143.84 245.81,142.56 246.08,141.52 246.4,140 246.79,137.97 247.22,135.9 247.67,133.86 248.14,131.87 248.6,130 249.06,128.31 249.54,126.76 250.02,125.26 250.5,123.71 251,122 251.5,120.1 251.99,118.09 252.5,116 253.03,113.89 253.6,111.8 254.22,109.66 254.89,107.44 255.58,105.25 256.25,103.2 256.9,101.4 257.5,99.91 258.06,98.65 258.62,97.54 259,96.52 259.18,95.5 259.41,94.5 259.7,93.56 260.03,92.68 260.37,91.83 260.72,91 261.06,90.2 261.41,89.44 261.78,88.71 262.17,88 262.59,87.3 263.03,86.62 263.51,85.97 264,85.33 264.52,84.71 265.06,84.1 265.62,83.49 266.2,82.89 266.8,82.3 267.42,81.74 268.06,81.2 268.69,80.7 269.3,80.24 269.95,79.79 270.67,79.35 271.51,78.9 272.47,78.44 273.54,77.97 274.68,77.5 275.89,77.04 277.16,76.6 278.39,76.19 279.59,75.81 280.9,75.44 282.44,75.04 284.33,74.6 286.67,74.09 289.58,73.52 292.74,72.94 295.97,72.39 299.08,71.9 302.04,71.49 304.97,71.14 307.92,70.82 310.94,70.52 314.08,70.2 314.87,70.12" stroke="#3050ff" stroke-width="1.2"/>
<polyline points="261,80.6 261.83,80.1 262.64,79.64 263.47,79.19 264.38,78.75 265.4,78.3 266.56,77.84 267.81,77.37 269.15,76.9 270.56,76.44 272,76 273.4,75.59 274.76,75.21 276.23,74.84 277.93,74.44 280,74 282.55,73.49 285.5,72.92 288.66,72.34 291.89,71.79 295,71.3 297.96,70.89 300.89,70.54 303.84,70.22 306.86,69.92 310,69.6 313.57,69.25 317.55,68.88 321.45,68.52 324.83,68.22 326.87,68.03" stroke="#0000ff" stroke-width="1.8"/>
<polyline points="262.64,84.44 263.47,83.99 264.38,83.55 265.4,83.1 266.56,82.64 267.81,82.17 269.15,81.7 270.56,81.24 272,80.8 273.4,80.29 274.76,79.8 276.23,79.31 277.93,78.79 280,78.19 282.55,77.48 285.5,76.69 288.66,75.87 291.89,75.07 295,74.34 297.96,73.71 300.89,73.14 303.84,72.59 306.86,72.06 310,71.5 313.57,70.87 317.55,70.2 321.45,69.54 324.83,68.98 326.87,68.64" stroke="#0000ff" stroke-width="1.6"/>
<polyline points="218.5,219 220.3,206 222,219" stroke="#0000ff" stroke-width="1.1"/>
<polyline points="222.5,219 223.5,204 224.3,219 224.8,196.5 225.6,219" stroke="#202050" stroke-width="1"/>
</g>
<rect x="35.75" y="36.5" width="128.25" height="182.25" fill="none" stroke="#000" stroke-width="1.5"/>
<text x="33.15" y="40" font-size="9.6" text-anchor="end"><tspan>10</tspan><tspan font-size="6.2" dy="-4.3">-4</tspan></text>
<text x="33.15" y="66.04" font-size="9.6" text-anchor="end"><tspan>10</tspan><tspan font-size="6.2" dy="-4.3">-5</tspan></text>
<text x="33.15" y="92.07" font-size="9.6" text-anchor="end"><tspan>10</tspan><tspan font-size="6.2" dy="-4.3">-6</tspan></text>
<text x="33.15" y="118.11" font-size="9.6" text-anchor="end"><tspan>10</tspan><tspan font-size="6.2" dy="-4.3">-7</tspan></text>
<text x="33.15" y="144.14" font-size="9.6" text-anchor="end"><tspan>10</tspan><tspan font-size="6.2" dy="-4.3">-8</tspan></text>
<text x="33.15" y="170.18" font-size="9.6" text-anchor="end"><tspan>10</tspan><tspan font-size="6.2" dy="-4.3">-9</tspan></text>
<text x="33.15" y="196.21" font-size="9.6" text-anchor="end"><tspan>10</tspan><tspan font-size="6.2" dy="-4.3">-10</tspan></text>
<text x="33.15" y="222.25" font-size="9.6" text-anchor="end"><tspan>10</tspan><tspan font-size="6.2" dy="-4.3">-11</tspan></text>
<text x="44.3" y="228.25" font-size="8.7" text-anchor="middle">-6</text>
<text x="61.4" y="228.25" font-size="8.7" text-anchor="middle">-4</text>
<text x="78.5" y="228.25" font-size="8.7" text-anchor="middle">-2</text>
<text x="95.6" y="228.25" font-size="8.7" text-anchor="middle">0</text>
<text x="112.7" y="228.25" font-size="8.7" text-anchor="middle">2</text>
<text x="129.8" y="228.25" font-size="8.7" text-anchor="middle">4</text>
<text x="146.9" y="228.25" font-size="8.7" text-anchor="middle">6</text>
<text x="164" y="228.25" font-size="8.7" text-anchor="middle">8</text>
<path d="M35.75,36.5h2.5 M35.75,54.7h1.3 M35.75,50.11h1.3 M35.75,46.86h1.3 M35.75,44.34h1.3 M35.75,42.28h1.3 M35.75,40.53h1.3 M35.75,39.02h1.3 M35.75,37.69h1.3 M35.75,62.54h2.5 M35.75,80.73h1.3 M35.75,76.15h1.3 M35.75,72.9h1.3 M35.75,70.37h1.3 M35.75,68.31h1.3 M35.75,66.57h1.3 M35.75,65.06h1.3 M35.75,63.73h1.3 M35.75,88.57h2.5 M35.75,106.77h1.3 M35.75,102.18h1.3 M35.75,98.93h1.3 M35.75,96.41h1.3 M35.75,94.35h1.3 M35.75,92.6h1.3 M35.75,91.09h1.3 M35.75,89.76h1.3 M35.75,114.61h2.5 M35.75,132.81h1.3 M35.75,128.22h1.3 M35.75,124.97h1.3 M35.75,122.44h1.3 M35.75,120.38h1.3 M35.75,118.64h1.3 M35.75,117.13h1.3 M35.75,115.8h1.3 M35.75,140.64h2.5 M35.75,158.84h1.3 M35.75,154.26h1.3 M35.75,151h1.3 M35.75,148.48h1.3 M35.75,146.42h1.3 M35.75,144.68h1.3 M35.75,143.17h1.3 M35.75,141.83h1.3 M35.75,166.68h2.5 M35.75,184.88h1.3 M35.75,180.29h1.3 M35.75,177.04h1.3 M35.75,174.52h1.3 M35.75,172.45h1.3 M35.75,170.71h1.3 M35.75,169.2h1.3 M35.75,167.87h1.3 M35.75,192.71h2.5 M35.75,210.91h1.3 M35.75,206.33h1.3 M35.75,203.07h1.3 M35.75,200.55h1.3 M35.75,198.49h1.3 M35.75,196.75h1.3 M35.75,195.24h1.3 M35.75,193.91h1.3 M35.75,218.75h2.5 M44.3,218.75v-2.5 M52.85,218.75v-1.3 M61.4,218.75v-2.5 M69.95,218.75v-1.3 M78.5,218.75v-2.5 M87.05,218.75v-1.3 M95.6,218.75v-2.5 M104.15,218.75v-1.3 M112.7,218.75v-2.5 M121.25,218.75v-1.3 M129.8,218.75v-2.5 M138.35,218.75v-1.3 M146.9,218.75v-2.5 M155.45,218.75v-1.3 M164,218.75v-2.5" stroke="#000" stroke-width="1" fill="none"/>
<text x="99.88" y="240.75" font-size="13.2" text-anchor="middle">Bottom gate voltage (V)</text>
<text transform="translate(12.4,126.62) rotate(-90)" font-size="13.4" text-anchor="middle">Drain current (A)</text>
<rect x="215.5" y="36.5" width="128.5" height="182.25" fill="none" stroke="#000" stroke-width="1.5"/>
<text x="212.9" y="40" font-size="9.6" text-anchor="end"><tspan>10</tspan><tspan font-size="6.2" dy="-4.3">-4</tspan></text>
<text x="212.9" y="66.04" font-size="9.6" text-anchor="end"><tspan>10</tspan><tspan font-size="6.2" dy="-4.3">-5</tspan></text>
<text x="212.9" y="92.07" font-size="9.6" text-anchor="end"><tspan>10</tspan><tspan font-size="6.2" dy="-4.3">-6</tspan></text>
<text x="212.9" y="118.11" font-size="9.6" text-anchor="end"><tspan>10</tspan><tspan font-size="6.2" dy="-4.3">-7</tspan></text>
<text x="212.9" y="144.14" font-size="9.6" text-anchor="end"><tspan>10</tspan><tspan font-size="6.2" dy="-4.3">-8</tspan></text>
<text x="212.9" y="170.18" font-size="9.6" text-anchor="end"><tspan>10</tspan><tspan font-size="6.2" dy="-4.3">-9</tspan></text>
<text x="212.9" y="196.21" font-size="9.6" text-anchor="end"><tspan>10</tspan><tspan font-size="6.2" dy="-4.3">-10</tspan></text>
<text x="212.9" y="222.25" font-size="9.6" text-anchor="end"><tspan>10</tspan><tspan font-size="6.2" dy="-4.3">-11</tspan></text>
<text x="224.07" y="228.25" font-size="8.7" text-anchor="middle">-6</text>
<text x="241.2" y="228.25" font-size="8.7" text-anchor="middle">-4</text>
<text x="258.33" y="228.25" font-size="8.7" text-anchor="middle">-2</text>
<text x="275.47" y="228.25" font-size="8.7" text-anchor="middle">0</text>
<text x="292.6" y="228.25" font-size="8.7" text-anchor="middle">2</text>
<text x="309.73" y="228.25" font-size="8.7" text-anchor="middle">4</text>
<text x="326.87" y="228.25" font-size="8.7" text-anchor="middle">6</text>
<text x="344" y="228.25" font-size="8.7" text-anchor="middle">8</text>
<path d="M215.5,36.5h2.5 M215.5,54.7h1.3 M215.5,50.11h1.3 M215.5,46.86h1.3 M215.5,44.34h1.3 M215.5,42.28h1.3 M215.5,40.53h1.3 M215.5,39.02h1.3 M215.5,37.69h1.3 M215.5,62.54h2.5 M215.5,80.73h1.3 M215.5,76.15h1.3 M215.5,72.9h1.3 M215.5,70.37h1.3 M215.5,68.31h1.3 M215.5,66.57h1.3 M215.5,65.06h1.3 M215.5,63.73h1.3 M215.5,88.57h2.5 M215.5,106.77h1.3 M215.5,102.18h1.3 M215.5,98.93h1.3 M215.5,96.41h1.3 M215.5,94.35h1.3 M215.5,92.6h1.3 M215.5,91.09h1.3 M215.5,89.76h1.3 M215.5,114.61h2.5 M215.5,132.81h1.3 M215.5,128.22h1.3 M215.5,124.97h1.3 M215.5,122.44h1.3 M215.5,120.38h1.3 M215.5,118.64h1.3 M215.5,117.13h1.3 M215.5,115.8h1.3 M215.5,140.64h2.5 M215.5,158.84h1.3 M215.5,154.26h1.3 M215.5,151h1.3 M215.5,148.48h1.3 M215.5,146.42h1.3 M215.5,144.68h1.3 M215.5,143.17h1.3 M215.5,141.83h1.3 M215.5,166.68h2.5 M215.5,184.88h1.3 M215.5,180.29h1.3 M215.5,177.04h1.3 M215.5,174.52h1.3 M215.5,172.45h1.3 M215.5,170.71h1.3 M215.5,169.2h1.3 M215.5,167.87h1.3 M215.5,192.71h2.5 M215.5,210.91h1.3 M215.5,206.33h1.3 M215.5,203.07h1.3 M215.5,200.55h1.3 M215.5,198.49h1.3 M215.5,196.75h1.3 M215.5,195.24h1.3 M215.5,193.91h1.3 M215.5,218.75h2.5 M224.07,218.75v-2.5 M232.63,218.75v-1.3 M241.2,218.75v-2.5 M249.77,218.75v-1.3 M258.33,218.75v-2.5 M266.9,218.75v-1.3 M275.47,218.75v-2.5 M284.03,218.75v-1.3 M292.6,218.75v-2.5 M301.17,218.75v-1.3 M309.73,218.75v-2.5 M318.3,218.75v-1.3 M326.87,218.75v-2.5 M335.43,218.75v-1.3 M344,218.75v-2.5" stroke="#000" stroke-width="1" fill="none"/>
<text x="279.75" y="240.75" font-size="13.2" text-anchor="middle">Bottom gate voltage (V)</text>
<text transform="translate(192.9,126.62) rotate(-90)" font-size="13.4" text-anchor="middle">Drain current (A)</text>
<text x="163" y="48.6" font-size="9.8" text-anchor="end">V<tspan font-size="6.6" dy="2.5">D</tspan><tspan dy="-2.5"> = 1 V</tspan></text>
<text x="342.5" y="48.6" font-size="9.8" text-anchor="end">V<tspan font-size="6.6" dy="2.5">D</tspan><tspan dy="-2.5"> = 1 V</tspan></text>
<path d="M44.5,140.7H84" stroke="#0e960e" stroke-width="2" stroke-dasharray="3.2,2"/>
<path d="M39.6,140.7l5,-3v6z" fill="#0e960e"/>
<path d="M73.7,50.5 Q56,54 49.2,67" stroke="#109010" stroke-width="1.9" fill="none"/>
<path d="M45.5,75.5 L45.9,65.6 L51.9,68.6 Z" fill="#109010"/>
<path d="M97,91.7 Q98.5,70 117,65.9" stroke="#109010" stroke-width="1.9" fill="none"/>
<path d="M126,62.6 L115.4,63.2 L118.2,68.6 Z" fill="#109010"/>
<path d="M266.9,69.6 Q250,74 241.5,85.5" stroke="#109010" stroke-width="1.9" fill="none"/>
<path d="M238.6,94.4 L238.5,84.2 L244.5,87.2 Z" fill="#109010"/>
<path d="M259.3,111.3 Q260.5,89 278.5,86" stroke="#109010" stroke-width="1.9" fill="none"/>
<path d="M287.4,82.2 L277,83.2 L279.8,88.8 Z" fill="#109010"/>
<text x="110" y="112.4" font-size="9.3">Max. V<tspan font-size="6.5" dy="2.5">G</tspan></text>
<path d="M110.9,117.6 H137.6 V113.2 L146.5,122 L137.6,130.7 V126.4 H110.9 Z" fill="url(#ga)"/>
<text x="112.8" y="124.8" font-size="7.4" fill="#fff" textLength="29.4" lengthAdjust="spacingAndGlyphs">0.5 V step</text>
<text x="111.2" y="126.2" font-size="9.3" text-anchor="end">1 V</text>
<text x="148.6" y="126.2" font-size="9.3" fill="#ff0000">6 V</text>
<text x="284.3" y="112.4" font-size="9.3">Max. V<tspan font-size="6.5" dy="2.5">G</tspan></text>
<path d="M285.2,117.6 H311.9 V113.2 L320.8,122 L311.9,130.7 V126.4 H285.2 Z" fill="url(#gb)"/>
<text x="291.3" y="124.8" font-size="7.4" fill="#fff" textLength="24" lengthAdjust="spacingAndGlyphs">1 V step</text>
<text x="285.5" y="126.2" font-size="9.3" text-anchor="end">1 V</text>
<text x="322.9" y="126.2" font-size="9.3" fill="#2020ff">6 V</text>
<rect x="99" y="153.3" width="62" height="50.5" fill="#fff" stroke="#000" stroke-width="0.9"/>
<text x="98.1" y="199.27" font-size="5.4" text-anchor="end" font-weight="normal">5</text>
<text x="98.1" y="190.43" font-size="5.4" text-anchor="end" font-weight="normal">10</text>
<text x="98.1" y="181.6" font-size="5.4" text-anchor="end" font-weight="normal">15</text>
<text x="98.1" y="172.77" font-size="5.4" text-anchor="end" font-weight="normal">20</text>
<text x="98.1" y="163.93" font-size="5.4" text-anchor="end" font-weight="normal">25</text>
<text x="98.1" y="155.1" font-size="5.4" text-anchor="end" font-weight="normal">30</text>
<text x="103.6" y="209" font-size="5.2" text-anchor="middle" font-weight="normal">1</text>
<text x="114.05" y="209" font-size="5.2" text-anchor="middle" font-weight="normal">2</text>
<text x="124.5" y="209" font-size="5.2" text-anchor="middle" font-weight="normal">3</text>
<text x="134.95" y="209" font-size="5.2" text-anchor="middle" font-weight="normal">4</text>
<text x="145.4" y="209" font-size="5.2" text-anchor="middle" font-weight="normal">5</text>
<text x="155.85" y="209" font-size="5.2" text-anchor="middle" font-weight="normal">6</text>
<path d="M99,197.37h1.6 M99,188.53h1.6 M99,179.7h1.6 M99,170.87h1.6 M99,162.03h1.6 M99,153.2h1.6 M103.6,203.8v-1.6 M114.05,203.8v-1.6 M124.5,203.8v-1.6 M134.95,203.8v-1.6 M145.4,203.8v-1.6 M155.85,203.8v-1.6" stroke="#000" stroke-width="0.7"/>
<text x="130" y="214" font-size="6.2" text-anchor="middle">Maximum gate voltage (V)</text>
<text transform="translate(89,178.6) rotate(-90)" font-size="6.1" text-anchor="middle">Max. drain current (μA)</text>
<line x1="103.6" y1="189.52" x2="155.85" y2="160.95" stroke="#ff0000" stroke-width="1.6"/>
<circle cx="103.6" cy="190.48" r="1.45" fill="#fff" stroke="#ff0000" stroke-width="0.9"/>
<circle cx="108.82" cy="187.3" r="1.45" fill="#fff" stroke="#ff0000" stroke-width="0.9"/>
<circle cx="114.05" cy="183.76" r="1.45" fill="#fff" stroke="#ff0000" stroke-width="0.9"/>
<circle cx="119.27" cy="180.05" r="1.45" fill="#fff" stroke="#ff0000" stroke-width="0.9"/>
<circle cx="124.5" cy="177.05" r="1.45" fill="#fff" stroke="#ff0000" stroke-width="0.9"/>
<circle cx="129.72" cy="174.22" r="1.45" fill="#fff" stroke="#ff0000" stroke-width="0.9"/>
<circle cx="134.95" cy="172.1" r="1.45" fill="#fff" stroke="#ff0000" stroke-width="0.9"/>
<circle cx="140.17" cy="170.34" r="1.45" fill="#fff" stroke="#ff0000" stroke-width="0.9"/>
<circle cx="145.4" cy="166.98" r="1.45" fill="#fff" stroke="#ff0000" stroke-width="0.9"/>
<circle cx="150.62" cy="164.51" r="1.45" fill="#fff" stroke="#ff0000" stroke-width="0.9"/>
<circle cx="155.85" cy="160.8" r="1.45" fill="#fff" stroke="#ff0000" stroke-width="0.9"/>
<text x="101.2" y="161.5" font-size="6.8" fill="#ff0000">Slope = 3.3 μA/V</text>
<text x="101.2" y="169.9" font-size="6.8" fill="#ff0000">R<tspan font-size="4.6" dy="-2.8">2</tspan><tspan dy="2.8"> = 99.16</tspan></text>
<rect x="278" y="153.2" width="62.3" height="50.4" fill="#fff" stroke="#000" stroke-width="0.9"/>
<text x="277.1" y="199.27" font-size="5.4" text-anchor="end" font-weight="normal">5</text>
<text x="277.1" y="190.43" font-size="5.4" text-anchor="end" font-weight="normal">10</text>
<text x="277.1" y="181.6" font-size="5.4" text-anchor="end" font-weight="normal">15</text>
<text x="277.1" y="172.77" font-size="5.4" text-anchor="end" font-weight="normal">20</text>
<text x="277.1" y="163.93" font-size="5.4" text-anchor="end" font-weight="normal">25</text>
<text x="277.1" y="155.1" font-size="5.4" text-anchor="end" font-weight="normal">30</text>
<text x="282.6" y="208.8" font-size="5.2" text-anchor="middle" font-weight="normal">1</text>
<text x="293.05" y="208.8" font-size="5.2" text-anchor="middle" font-weight="normal">2</text>
<text x="303.5" y="208.8" font-size="5.2" text-anchor="middle" font-weight="normal">3</text>
<text x="313.95" y="208.8" font-size="5.2" text-anchor="middle" font-weight="normal">4</text>
<text x="324.4" y="208.8" font-size="5.2" text-anchor="middle" font-weight="normal">5</text>
<text x="334.85" y="208.8" font-size="5.2" text-anchor="middle" font-weight="normal">6</text>
<path d="M278,197.37h1.6 M278,188.53h1.6 M278,179.7h1.6 M278,170.87h1.6 M278,162.03h1.6 M278,153.2h1.6 M282.6,203.6v-1.6 M293.05,203.6v-1.6 M303.5,203.6v-1.6 M313.95,203.6v-1.6 M324.4,203.6v-1.6 M334.85,203.6v-1.6" stroke="#000" stroke-width="0.7"/>
<text x="309.15" y="213.8" font-size="6.2" text-anchor="middle">Maximum gate voltage (V)</text>
<text transform="translate(268,178.6) rotate(-90)" font-size="6.1" text-anchor="middle">Max. drain current (μA)</text>
<line x1="282.6" y1="199.41" x2="334.85" y2="195.89" stroke="#0000ff" stroke-width="1.8"/>
<circle cx="282.6" cy="199.4" r="1.7" fill="#fff" stroke="#0000ff" stroke-width="1.3"/>
<circle cx="293.05" cy="198.78" r="1.7" fill="#fff" stroke="#0000ff" stroke-width="1.3"/>
<circle cx="303.5" cy="197.72" r="1.7" fill="#fff" stroke="#0000ff" stroke-width="1.3"/>
<circle cx="313.95" cy="197.72" r="1.7" fill="#fff" stroke="#0000ff" stroke-width="1.3"/>
<circle cx="324.4" cy="196.31" r="1.7" fill="#fff" stroke="#0000ff" stroke-width="1.3"/>
<circle cx="334.85" cy="195.95" r="1.7" fill="#fff" stroke="#0000ff" stroke-width="1.3"/>
<text x="280.2" y="161.4" font-size="6.8" fill="#0000ff">Slope = 0.4 μA/V</text>
<text x="280.2" y="169.8" font-size="6.8" fill="#0000ff">R<tspan font-size="4.6" dy="-2.8">2</tspan><tspan dy="2.8"> = 94.06</tspan></text>
<rect x="411.75" y="22.7" width="132.25" height="106.2" fill="none" stroke="#000" stroke-width="1.4"/>
<text x="408.75" y="122.45" font-size="9" text-anchor="end">0</text>
<text x="408.75" y="103.14" font-size="9" text-anchor="end">1</text>
<text x="408.75" y="83.83" font-size="9" text-anchor="end">2</text>
<text x="408.75" y="64.52" font-size="9" text-anchor="end">3</text>
<text x="408.75" y="45.21" font-size="9" text-anchor="end">4</text>
<text x="408.75" y="25.9" font-size="9" text-anchor="end">5</text>
<text x="422.77" y="139.1" font-size="9" text-anchor="middle">1</text>
<text x="444.81" y="139.1" font-size="9" text-anchor="middle">2</text>
<text x="466.85" y="139.1" font-size="9" text-anchor="middle">3</text>
<text x="488.9" y="139.1" font-size="9" text-anchor="middle">4</text>
<text x="510.94" y="139.1" font-size="9" text-anchor="middle">5</text>
<text x="532.98" y="139.1" font-size="9" text-anchor="middle">6</text>
<path d="M411.75,119.25h2.5 M411.75,109.59h1.4 M411.75,99.94h2.5 M411.75,90.28h1.4 M411.75,80.63h2.5 M411.75,70.97h1.4 M411.75,61.32h2.5 M411.75,51.66h1.4 M411.75,42.01h2.5 M411.75,32.35h1.4 M411.75,22.7h2.5 M422.77,128.9v-2.5 M433.79,128.9v-1.4 M444.81,128.9v-2.5 M455.83,128.9v-1.4 M466.85,128.9v-2.5 M477.88,128.9v-1.4 M488.9,128.9v-2.5 M499.92,128.9v-1.4 M510.94,128.9v-2.5 M521.96,128.9v-1.4 M532.98,128.9v-2.5 M544,128.9v-1.4" stroke="#000" stroke-width="1"/>
<text x="478.38" y="147.6" font-size="10.9" text-anchor="middle">Maximum gate voltage (V)</text>
<text transform="translate(400,74.7) rotate(-90)" font-size="10.8" text-anchor="middle">Hysteresis window (V)</text>
<line x1="422.77" y1="103.8" x2="532.98" y2="30.04" stroke="#ff0000" stroke-width="1.6"/>
<circle cx="422.77" cy="104.38" r="2.45" fill="#fff" stroke="#ff0000" stroke-width="1.25"/>
<circle cx="433.79" cy="96.07" r="2.45" fill="#fff" stroke="#ff0000" stroke-width="1.25"/>
<circle cx="444.81" cy="89.12" r="2.45" fill="#fff" stroke="#ff0000" stroke-width="1.25"/>
<circle cx="455.83" cy="81.4" r="2.45" fill="#fff" stroke="#ff0000" stroke-width="1.25"/>
<circle cx="466.85" cy="75.22" r="2.45" fill="#fff" stroke="#ff0000" stroke-width="1.25"/>
<circle cx="477.88" cy="69.04" r="2.45" fill="#fff" stroke="#ff0000" stroke-width="1.25"/>
<circle cx="488.9" cy="61.9" r="2.45" fill="#fff" stroke="#ff0000" stroke-width="1.25"/>
<circle cx="499.92" cy="54.17" r="2.45" fill="#fff" stroke="#ff0000" stroke-width="1.25"/>
<circle cx="510.94" cy="45.48" r="2.45" fill="#fff" stroke="#ff0000" stroke-width="1.25"/>
<circle cx="521.96" cy="37.57" r="2.45" fill="#fff" stroke="#ff0000" stroke-width="1.25"/>
<circle cx="532.98" cy="29.65" r="2.45" fill="#fff" stroke="#ff0000" stroke-width="1.25"/>
<line x1="422.77" y1="117.89" x2="532.98" y2="110.75" stroke="#0000ff" stroke-width="1.6"/>
<circle cx="422.77" cy="117.12" r="2.45" fill="#fff" stroke="#0000ff" stroke-width="1.25"/>
<circle cx="444.81" cy="116.54" r="2.45" fill="#fff" stroke="#0000ff" stroke-width="1.25"/>
<circle cx="466.85" cy="116.35" r="2.45" fill="#fff" stroke="#0000ff" stroke-width="1.25"/>
<circle cx="488.9" cy="112.68" r="2.45" fill="#fff" stroke="#0000ff" stroke-width="1.25"/>
<circle cx="510.94" cy="111.14" r="2.45" fill="#fff" stroke="#0000ff" stroke-width="1.25"/>
<circle cx="532.98" cy="111.14" r="2.45" fill="#fff" stroke="#0000ff" stroke-width="1.25"/>
<text x="417.6" y="32" font-size="8.1" fill="#ff0000" text-anchor="start" >Slope = 0.75 V/V</text>
<text x="417.6" y="43.3" font-size="8.1" fill="#ff0000">R<tspan font-size="5.5" dy="-3.3">2</tspan><tspan dy="3.3"> = 99.84</tspan></text>
<text x="415.6" y="55" font-size="8.1" fill="#0000ff" text-anchor="start" >Slope = 0.07 V/V</text>
<text x="415.6" y="66.3" font-size="8.1" fill="#0000ff">R<tspan font-size="5.5" dy="-3.3">2</tspan><tspan dy="3.3"> = 84.86</tspan></text>
<text x="542.5" y="50" font-size="9" fill="#ff0000" text-anchor="end" >PSG</text>
<text x="542" y="106" font-size="9.2" fill="#0000ff" text-anchor="end" >SOG</text>
<defs><clipPath id="cd"><rect x="411.25" y="158.25" width="132.75" height="107.25"/></clipPath></defs>
<g clip-path="url(#cd)" fill="none">
<polyline points="411.25,265.5 414.57,265.05 417.89,264.66 421.21,264.32 424.52,264.05 427.84,263.84 431.16,263.69 434.48,263.6 437.8,263.57 441.12,263.57 444.44,263.57 447.76,263.57 451.07,263.57 454.39,263.57 457.71,263.57 461.03,263.57 464.35,263.57 467.67,263.57 470.99,263.57 474.31,263.57 477.62,263.57 480.94,263.57 484.26,263.57 487.58,263.57 490.9,263.57 494.22,263.57 497.54,263.57 500.86,263.57 504.18,263.57 507.49,263.57 510.81,263.57 514.13,263.57 517.45,263.57 520.77,263.57 524.09,263.57 527.41,263.57 530.73,263.57 534.04,263.57 537.36,263.57 540.68,263.57 544,263.57" stroke="#ff0000" stroke-width="1.9"/>
<polyline points="411.25,265.5 414.57,263.75 417.89,262.16 421.21,260.71 424.52,259.42 427.84,258.28 431.16,257.3 434.48,256.46 437.8,255.78 441.12,255.24 444.44,254.86 447.76,254.64 451.07,254.56 454.39,254.56 457.71,254.56 461.03,254.56 464.35,254.56 467.67,254.56 470.99,254.56 474.31,254.56 477.62,254.56 480.94,254.56 484.26,254.56 487.58,254.56 490.9,254.56 494.22,254.56 497.54,254.56 500.86,254.56 504.18,254.56 507.49,254.56 510.81,254.56 514.13,254.56 517.45,254.56 520.77,254.56 524.09,254.56 527.41,254.56 530.73,254.56 534.04,254.56 537.36,254.56 540.68,254.56 544,254.56" stroke="#ff0000" stroke-width="1.9"/>
<polyline points="411.25,265.5 414.57,262.9 417.89,260.47 421.21,258.21 424.52,256.12 427.84,254.19 431.16,252.43 434.48,250.84 437.8,249.41 441.12,248.16 444.44,247.07 447.76,246.14 451.07,245.39 454.39,244.8 457.71,244.39 461.03,244.13 464.35,244.05 467.67,244.05 470.99,244.05 474.31,244.05 477.62,244.05 480.94,244.05 484.26,244.05 487.58,244.05 490.9,244.05 494.22,244.05 497.54,244.05 500.86,244.05 504.18,244.05 507.49,244.05 510.81,244.05 514.13,244.05 517.45,244.05 520.77,244.05 524.09,244.05 527.41,244.05 530.73,244.05 534.04,244.05 537.36,244.05 540.68,244.05 544,244.05" stroke="#ff0000" stroke-width="1.9"/>
<polyline points="411.25,265.5 414.57,262.04 417.89,258.75 421.21,255.62 424.52,252.67 427.84,249.89 431.16,247.28 434.48,244.85 437.8,242.58 441.12,240.48 444.44,238.55 447.76,236.8 451.07,235.21 454.39,233.79 457.71,232.55 461.03,231.47 464.35,230.57 467.67,229.84 470.99,229.27 474.31,228.88 477.62,228.66 480.94,228.61 484.26,228.61 487.58,228.61 490.9,228.61 494.22,228.61 497.54,228.61 500.86,228.61 504.18,228.61 507.49,228.61 510.81,228.61 514.13,228.61 517.45,228.61 520.77,228.61 524.09,228.61 527.41,228.61 530.73,228.61 534.04,228.61 537.36,228.61 540.68,228.61 544,228.61" stroke="#ff0000" stroke-width="1.9"/>
<polyline points="411.25,265.5 414.57,261.43 417.89,257.51 421.21,253.74 424.52,250.13 427.84,246.67 431.16,243.36 434.48,240.2 437.8,237.2 441.12,234.34 444.44,231.64 447.76,229.1 451.07,226.7 454.39,224.46 457.71,222.37 461.03,220.44 464.35,218.65 467.67,217.02 470.99,215.54 474.31,214.21 477.62,213.04 480.94,212.02 484.26,211.15 487.58,210.43 490.9,209.87 494.22,209.46 497.54,209.2 500.86,209.09 504.18,209.09 507.49,209.09 510.81,209.09 514.13,209.09 517.45,209.09 520.77,209.09 524.09,209.09 527.41,209.09 530.73,209.09 534.04,209.09 537.36,209.09 540.68,209.09 544,209.09" stroke="#ff0000" stroke-width="1.9"/>
<polyline points="411.25,265.5 414.57,260.89 417.89,256.42 421.21,252.08 424.52,247.88 427.84,243.82 431.16,239.89 434.48,236.09 437.8,232.44 441.12,228.92 444.44,225.53 447.76,222.28 451.07,219.17 454.39,216.19 457.71,213.35 461.03,210.65 464.35,208.08 467.67,205.64 470.99,203.34 474.31,201.18 477.62,199.16 480.94,197.27 484.26,195.51 487.58,193.9 490.9,192.41 494.22,191.07 497.54,189.86 500.86,188.78 504.18,187.85 507.49,187.04 510.81,186.38 514.13,185.85 517.45,185.45 520.77,185.2 524.09,185.07 527.41,185.06 530.73,185.06 534.04,185.06 537.36,185.06 540.68,185.06 544,185.06" stroke="#ff0000" stroke-width="1.9"/>
<polyline points="411.25,265.5 414.57,265.38 417.89,265.27 421.21,265.17 424.52,265.08 427.84,265 431.16,264.94 434.48,264.88 437.8,264.83 441.12,264.8 444.44,264.77 447.76,264.75 451.07,264.75 454.39,264.75 457.71,264.75 461.03,264.75 464.35,264.75 467.67,264.75 470.99,264.75 474.31,264.75 477.62,264.75 480.94,264.75 484.26,264.75 487.58,264.75 490.9,264.75 494.22,264.75 497.54,264.75 500.86,264.75 504.18,264.75 507.49,264.75 510.81,264.75 514.13,264.75 517.45,264.75 520.77,264.75 524.09,264.75 527.41,264.75 530.73,264.75 534.04,264.75 537.36,264.75 540.68,264.75 544,264.75" stroke="#0000ff" stroke-width="1.9"/>
<polyline points="411.25,265.5 414.57,265.28 417.89,265.08 421.21,264.88 424.52,264.7 427.84,264.53 431.16,264.37 434.48,264.22 437.8,264.08 441.12,263.96 444.44,263.85 447.76,263.75 451.07,263.66 454.39,263.58 457.71,263.51 461.03,263.46 464.35,263.41 467.67,263.38 470.99,263.36 474.31,263.36 477.62,263.36 480.94,263.36 484.26,263.36 487.58,263.36 490.9,263.36 494.22,263.36 497.54,263.36 500.86,263.36 504.18,263.36 507.49,263.36 510.81,263.36 514.13,263.36 517.45,263.36 520.77,263.36 524.09,263.36 527.41,263.36 530.73,263.36 534.04,263.36 537.36,263.36 540.68,263.36 544,263.36" stroke="#0000ff" stroke-width="1.9"/>
<polyline points="411.25,265.5 414.57,265.15 417.89,264.82 421.21,264.5 424.52,264.19 427.84,263.9 431.16,263.61 434.48,263.34 437.8,263.08 441.12,262.84 444.44,262.61 447.76,262.39 451.07,262.18 454.39,261.98 457.71,261.8 461.03,261.63 464.35,261.47 467.67,261.33 470.99,261.2 474.31,261.08 477.62,260.97 480.94,260.87 484.26,260.79 487.58,260.72 490.9,260.67 494.22,260.62 497.54,260.59 500.86,260.57 504.18,260.57 507.49,260.57 510.81,260.57 514.13,260.57 517.45,260.57 520.77,260.57 524.09,260.57 527.41,260.57 530.73,260.57 534.04,260.57 537.36,260.57 540.68,260.57 544,260.57" stroke="#0000ff" stroke-width="1.9"/>
<polyline points="411.25,265.5 414.57,264.96 417.89,264.43 421.21,263.92 424.52,263.43 427.84,262.95 431.16,262.48 434.48,262.03 437.8,261.59 441.12,261.17 444.44,260.77 447.76,260.37 451.07,260 454.39,259.64 457.71,259.29 461.03,258.96 464.35,258.64 467.67,258.34 470.99,258.05 474.31,257.78 477.62,257.52 480.94,257.28 484.26,257.05 487.58,256.84 490.9,256.64 494.22,256.46 497.54,256.29 500.86,256.13 504.18,255.99 507.49,255.87 510.81,255.76 514.13,255.67 517.45,255.59 520.77,255.53 524.09,255.48 527.41,255.44 530.73,255.42 534.04,255.42 537.36,255.42 540.68,255.42 544,255.42" stroke="#0000ff" stroke-width="1.9"/>
<polyline points="411.25,265.5 414.57,264.74 417.89,264 421.21,263.27 424.52,262.57 427.84,261.88 431.16,261.21 434.48,260.56 437.8,259.93 441.12,259.31 444.44,258.72 447.76,258.14 451.07,257.58 454.39,257.04 457.71,256.51 461.03,256.01 464.35,255.52 467.67,255.05 470.99,254.6 474.31,254.16 477.62,253.75 480.94,253.35 484.26,252.97 487.58,252.61 490.9,252.27 494.22,251.94 497.54,251.64 500.86,251.35 504.18,251.08 507.49,250.83 510.81,250.59 514.13,250.38 517.45,250.18 520.77,250 524.09,249.84 527.41,249.69 530.73,249.57 534.04,249.46 537.36,249.37 540.68,249.3 544,249.25" stroke="#0000ff" stroke-width="1.9"/>
<polyline points="411.25,265.5 414.57,264.54 417.89,263.6 421.21,262.68 424.52,261.77 427.84,260.89 431.16,260.04 434.48,259.2 437.8,258.38 441.12,257.58 444.44,256.81 447.76,256.05 451.07,255.31 454.39,254.6 457.71,253.9 461.03,253.23 464.35,252.58 467.67,251.94 470.99,251.33 474.31,250.74 477.62,250.17 480.94,249.62 484.26,249.09 487.58,248.58 490.9,248.09 494.22,247.63 497.54,247.18 500.86,246.75 504.18,246.35 507.49,245.96 510.81,245.6 514.13,245.25 517.45,244.93 520.77,244.63 524.09,244.34 527.41,244.08 530.73,243.84 534.04,243.62 537.36,243.42 540.68,243.24 544,243.08" stroke="#0000ff" stroke-width="1.9"/>
<polyline points="411.25,265.5 414.57,264.31 417.89,263.15 421.21,262.01 424.52,260.89 427.84,259.8 431.16,258.73 434.48,257.68 437.8,256.66 441.12,255.66 444.44,254.69 447.76,253.74 451.07,252.81 454.39,251.91 457.71,251.03 461.03,250.18 464.35,249.35 467.67,248.54 470.99,247.75 474.31,246.99 477.62,246.26 480.94,245.55 484.26,244.86 487.58,244.19 490.9,243.55 494.22,242.94 497.54,242.34 500.86,241.78 504.18,241.23 507.49,240.71 510.81,240.21 514.13,239.74 517.45,239.29 520.77,238.86 524.09,238.46 527.41,238.08 530.73,237.72 534.04,237.39 537.36,237.09 540.68,236.8 544,236.54" stroke="#0000ff" stroke-width="1.9"/>
</g>
<rect x="411.25" y="158.25" width="132.75" height="107.25" fill="none" stroke="#000" stroke-width="1.4"/>
<text x="408.75" y="268.7" font-size="9" text-anchor="end">0</text>
<text x="408.75" y="247.25" font-size="9" text-anchor="end">10</text>
<text x="408.75" y="225.8" font-size="9" text-anchor="end">20</text>
<text x="408.75" y="204.35" font-size="9" text-anchor="end">30</text>
<text x="408.75" y="182.9" font-size="9" text-anchor="end">40</text>
<text x="408.75" y="161.45" font-size="9" text-anchor="end">50</text>
<text x="411.25" y="274.7" font-size="9" text-anchor="middle">0</text>
<text x="437.8" y="274.7" font-size="9" text-anchor="middle">1</text>
<text x="464.35" y="274.7" font-size="9" text-anchor="middle">2</text>
<text x="490.9" y="274.7" font-size="9" text-anchor="middle">3</text>
<text x="517.45" y="274.7" font-size="9" text-anchor="middle">4</text>
<text x="544" y="274.7" font-size="9" text-anchor="middle">5</text>
<path d="M411.25,265.5h2.5 M411.25,254.78h1.4 M411.25,244.05h2.5 M411.25,233.32h1.4 M411.25,222.6h2.5 M411.25,211.88h1.4 M411.25,201.15h2.5 M411.25,190.43h1.4 M411.25,179.7h2.5 M411.25,168.97h1.4 M411.25,158.25h2.5 M411.25,265.5v-2.5 M424.52,265.5v-1.4 M437.8,265.5v-2.5 M451.07,265.5v-1.4 M464.35,265.5v-2.5 M477.62,265.5v-1.4 M490.9,265.5v-2.5 M504.18,265.5v-1.4 M517.45,265.5v-2.5 M530.73,265.5v-1.4 M544,265.5v-2.5" stroke="#000" stroke-width="1"/>
<text x="477.4" y="285" font-size="11.8" text-anchor="middle">Drain voltage (V)</text>
<text transform="translate(395.6,210) rotate(-90)" font-size="12.2" text-anchor="middle">Drain current (μA)</text>
<text x="419.6" y="168.6" font-size="8.3">V<tspan font-size="5.6" dy="2">G</tspan><tspan dy="-2"> – V</tspan><tspan font-size="5.6" dy="2">th</tspan></text>
<text x="454.6" y="168.6" font-size="8.3">= 0 V ~ 6 V (11 steps)</text>
<path d="M418.3,177.8h13" stroke="#ff0000" stroke-width="2"/>
<path d="M418.3,187.2h13" stroke="#0000ff" stroke-width="2"/>
<text x="432.5" y="180.5" font-size="8" fill="#ff0000" text-anchor="start" >PSG</text>
<text x="432.5" y="190" font-size="8" fill="#0000ff" text-anchor="start" >SOG</text>
</svg>
</body></html>
